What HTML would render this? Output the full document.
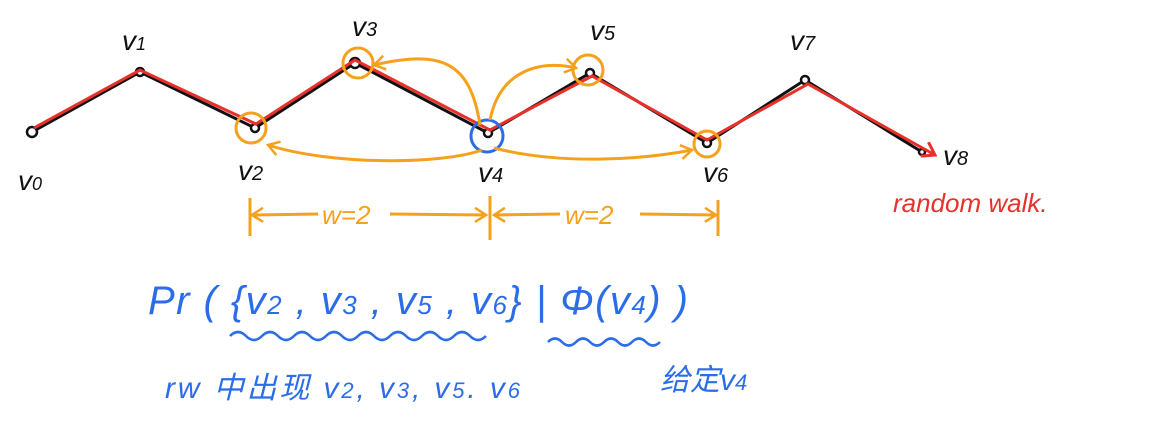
<!DOCTYPE html>
<html><head><meta charset="utf-8"><style>
html,body{margin:0;padding:0;background:#fff;}
svg{display:block;}
text{font-family:"Liberation Sans","Noto Sans CJK SC",sans-serif;}
</style></head><body>
<svg width="1160" height="430" viewBox="0 0 1160 430" xmlns="http://www.w3.org/2000/svg">
<defs>
<marker id="oa" markerUnits="userSpaceOnUse" markerWidth="14" markerHeight="16" refX="12" refY="8" orient="auto"><path d="M1,1 L12,8 L1,15" fill="none" stroke="#f5a11e" stroke-width="2.5"/></marker>
<marker id="oas" markerUnits="userSpaceOnUse" markerWidth="14" markerHeight="16" refX="2" refY="8" orient="auto"><path d="M13,1 L2,8 L13,15" fill="none" stroke="#f5a11e" stroke-width="2.5"/></marker>
<marker id="ra" markerUnits="userSpaceOnUse" markerWidth="16" markerHeight="18" refX="13" refY="9" orient="auto"><path d="M1,1 L13,9 L1,17" fill="none" stroke="#e8312b" stroke-width="3"/></marker>
</defs>
<polyline points="32,132 140,72 255,128 355,63 488,133 590,73 707,143 805,80 922,152" fill="none" stroke="#111" stroke-width="3"/>
<g fill="#fff" stroke="#111" stroke-width="2.5">
<circle cx="32" cy="132" r="5"/><circle cx="140" cy="72" r="4"/><circle cx="255" cy="128" r="4"/><circle cx="355" cy="63" r="5"/><circle cx="488" cy="133" r="4"/><circle cx="590" cy="73" r="4"/><circle cx="707" cy="143" r="4"/><circle cx="805" cy="80" r="4"/><circle cx="922" cy="152" r="3"/>
</g>
<polyline points="34,128 140,70 256,124 355,60 490,130 592,76 707,140 808,84 935,155" fill="none" stroke="#e8312b" stroke-width="3" marker-end="url(#ra)"/>
<g fill="none" stroke="#f5a11e" stroke-width="3">
<circle cx="251" cy="128" r="15"/><circle cx="358" cy="63" r="15"/><circle cx="588" cy="70" r="15"/><circle cx="707" cy="144" r="13"/>
</g>
<circle cx="487" cy="136" r="16" fill="none" stroke="#2b6de8" stroke-width="3"/>
<g fill="none" stroke="#f5a11e" stroke-width="3" marker-end="url(#oa)">
<path d="M480,125 C470,60 440,50 374,65"/>
<path d="M482,150 C440,165 330,165 268,145"/>
<path d="M490,120 C500,70 540,60 576,68"/>
<path d="M494,148 C560,165 640,160 692,150"/>
</g>
<g stroke="#f5a11e" stroke-width="3" fill="none">
<line x1="250" y1="198" x2="250" y2="236"/><line x1="490" y1="196" x2="490" y2="240"/><line x1="718" y1="200" x2="718" y2="236"/>
<line x1="252" y1="215" x2="318" y2="214" marker-start="url(#oas)"/>
<line x1="390" y1="214" x2="486" y2="215" marker-end="url(#oa)"/>
<line x1="494" y1="215" x2="560" y2="214" marker-start="url(#oas)"/>
<line x1="640" y1="214" x2="716" y2="215" marker-end="url(#oa)"/>
</g>
<g fill="#f5a11e" font-size="26" font-style="italic"><text x="322" y="224">w=2</text><text x="565" y="224">w=2</text></g>
<g fill="#111" font-size="28" font-style="italic">
<text x="18" y="190">v<tspan font-size="18">0</tspan></text>
<text x="122" y="50">v<tspan font-size="18">1</tspan></text>
<text x="238" y="180">v<tspan font-size="20">2</tspan></text>
<text x="352" y="36">v<tspan font-size="20">3</tspan></text>
<text x="478" y="182">v<tspan font-size="20">4</tspan></text>
<text x="590" y="40">v<tspan font-size="20">5</tspan></text>
<text x="703" y="182">v<tspan font-size="20">6</tspan></text>
<text x="790" y="50">v<tspan font-size="20">7</tspan></text>
<text x="943" y="165">v<tspan font-size="20">8</tspan></text>
</g>
<text x="893" y="212" fill="#e8312b" font-size="26" font-style="italic">random walk.</text>
<g fill="#2b6de8" font-style="italic">
<text x="148" y="314" font-size="40" textLength="540" lengthAdjust="spacing">Pr ( {v<tspan font-size="26">2</tspan> , v<tspan font-size="26">3</tspan> , v<tspan font-size="26">5</tspan> , v<tspan font-size="26">6</tspan>} | Φ(v<tspan font-size="26">4</tspan>) )</text>
<text x="165" y="398" font-size="30" textLength="355" lengthAdjust="spacing">rw 中出现 v<tspan font-size="22">2</tspan>, v<tspan font-size="22">3</tspan>, v<tspan font-size="22">5</tspan>. v<tspan font-size="22">6</tspan></text>
<text x="660" y="390" font-size="30">给定v<tspan font-size="22">4</tspan></text>
</g>
<g fill="none" stroke="#2b6de8" stroke-width="2.5">
<path d="M230,336 q8,-8 16,0 t16,0 t16,0 t16,0 t16,0 t16,0 t16,0 t16,0 t16,0 t16,0 t16,0 t16,0 t16,0 t16,0 t16,0 t16,0"/>
<path d="M548,342 q7,-7 14,0 t14,0 t14,0 t14,0 t14,0 t14,0 t14,0 t14,0"/>
</g>
</svg>
</body></html>
